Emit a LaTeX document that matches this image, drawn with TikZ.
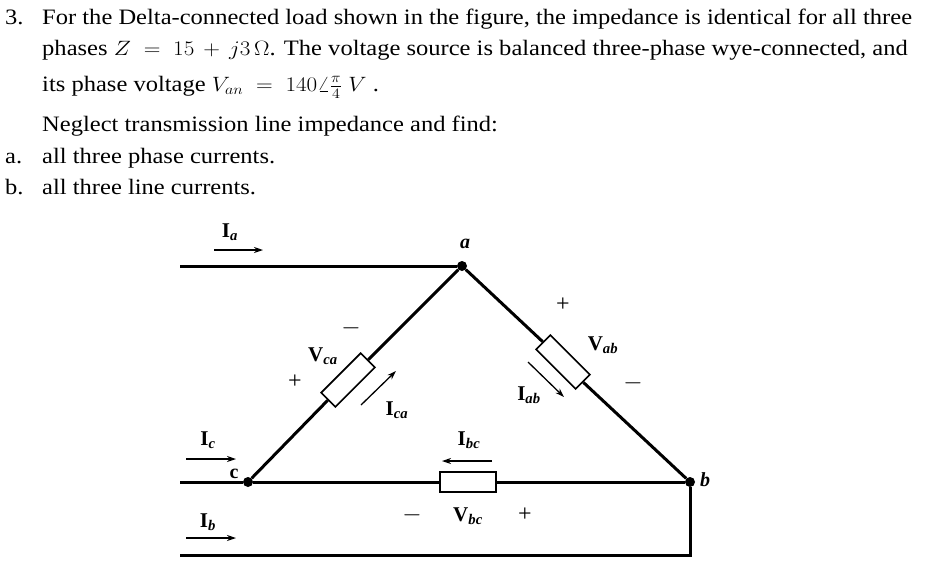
\documentclass[tikz,border=0pt]{standalone}
\usepackage{fontspec}
\setmainfont{Liberation Serif}
\usetikzlibrary{arrows.meta}
\begin{document}
\begin{tikzpicture}[x=1pt,y=-1pt,
  wire/.style={line width=3pt},
  res/.style={draw,line width=1.6pt,fill=white,minimum width=56pt,minimum height=20pt,inner sep=0pt},
  dot/.style={circle,fill,inner sep=0pt,minimum size=10pt},
  cur/.style={line width=1.3pt,-{Stealth[length=9pt,width=6pt]}},
  lbl/.style={font=\fontsize{21}{21}\selectfont\bfseries},
  pm/.style={font=\fontsize{24}{24}\selectfont},
  txt/.style={anchor=base west,inner sep=0pt,font=\fontsize{22}{22}\selectfont,xscale=1.115,transform shape}]
\useasboundingbox (0,0) rectangle (926,563);
% text
\node[txt] (n3) at (5,24) {3.};
\node[txt] (l1) at (42,24) {For the Delta-connected load shown in the figure, the impedance is identical for all three};
\node[txt] (l2) at (42,55) {phases $Z \;=\; 15 \,+\, j3\,\Omega$. The voltage source is balanced three-phase wye-connected, and};
\node[txt] (l3) at (42,91) {its phase voltage $V_{an} \;=\; 140\angle\frac{\pi}{4}\;V$ .};
\node[txt] (l4) at (42,131) {Neglect transmission line impedance and find:};
\node[txt] (la) at (5,163) {a.};
\node[txt] (l5) at (42,163) {all three phase currents.};
\node[txt] (lb) at (5,194) {b.};
\node[txt] (l6) at (42,194) {all three line currents.};
% nodes
\node[dot] (a) at (462,266) {};
\node[dot] (c) at (248,482) {};
\node[dot] (b) at (690,482) {};
\coordinate (ta) at (180,266);
\coordinate (tc) at (180,482);
\coordinate (tb) at (180,555);
\coordinate (br) at (690,555);
\node[res,rotate=45] (Rca) at (348,380) {};
\node[res,rotate=-45] (Rab) at (563,362) {};
\node[res] (Rbc) at (468,482) {};
\draw[wire] (ta) -- (a);
\draw[wire] (tc) -- (c);
\draw[wire] (c) -- (Rca.west);
\draw[wire] (Rca.east) -- (a);
\draw[wire] (a) -- (Rab.west);
\draw[wire] (Rab.east) -- (b);
\draw[wire] (c) -- (Rbc.west);
\draw[wire] (Rbc.east) -- (b);
\draw[wire] (tb) -- (br) -- (b);
% labels
\node[font=\fontsize{20}{20}\selectfont\bfseries\itshape] (la1) at (465,244) {a};
\node[font=\fontsize{20}{20}\selectfont\bfseries] (lc1) at (234,474) {c};
\node[font=\fontsize{20}{20}\selectfont\bfseries\itshape] (lb1) at (705,480) {b};
\node[lbl] (Ia) at (230,232) {I\textsubscript{\itshape a}};
\coordinate (Ia1) at (214,250); \coordinate (Ia2) at (263,250);
\draw[cur] (Ia1) -- (Ia2);
\node[lbl] (Ic) at (208,440) {I\textsubscript{\itshape c}};
\coordinate (Ic1) at (186,459); \coordinate (Ic2) at (236,459);
\draw[cur] (Ic1) -- (Ic2);
\node[lbl] (Ib) at (208,522) {I\textsubscript{\itshape b}};
\coordinate (Ib1) at (186,538); \coordinate (Ib2) at (236,538);
\draw[cur] (Ib1) -- (Ib2);
\node[lbl] (Vca) at (323,356) {V\textsubscript{\itshape ca}};
\node[pm] (p1) at (295,382) {+};
\node[pm] (m1) at (351,328) {$-$};
\node[lbl] (Ica) at (397,410) {I\textsubscript{\itshape ca}};
\coordinate (Ica1) at (361,405); \coordinate (Ica2) at (396,371);
\draw[cur] (Ica1) -- (Ica2);
\node[lbl] (Vab) at (603,345) {V\textsubscript{\itshape ab}};
\node[pm] (p2) at (563,305) {+};
\node[pm] (m2) at (633,383) {$-$};
\node[lbl] (Iab) at (529,395) {I\textsubscript{\itshape ab}};
\coordinate (Iab1) at (528,362); \coordinate (Iab2) at (564,397);
\draw[cur] (Iab1) -- (Iab2);
\node[lbl] (Ibc) at (469,440) {I\textsubscript{\itshape bc}};
\coordinate (Ibc1) at (492,461); \coordinate (Ibc2) at (442,461);
\draw[cur] (Ibc1) -- (Ibc2);
\node[lbl] (Vbc) at (468,516) {V\textsubscript{\itshape bc}};
\node[pm] (m3) at (412,515) {$-$};
\node[pm] (p3) at (525,515) {+};
\end{tikzpicture}
\end{document}
